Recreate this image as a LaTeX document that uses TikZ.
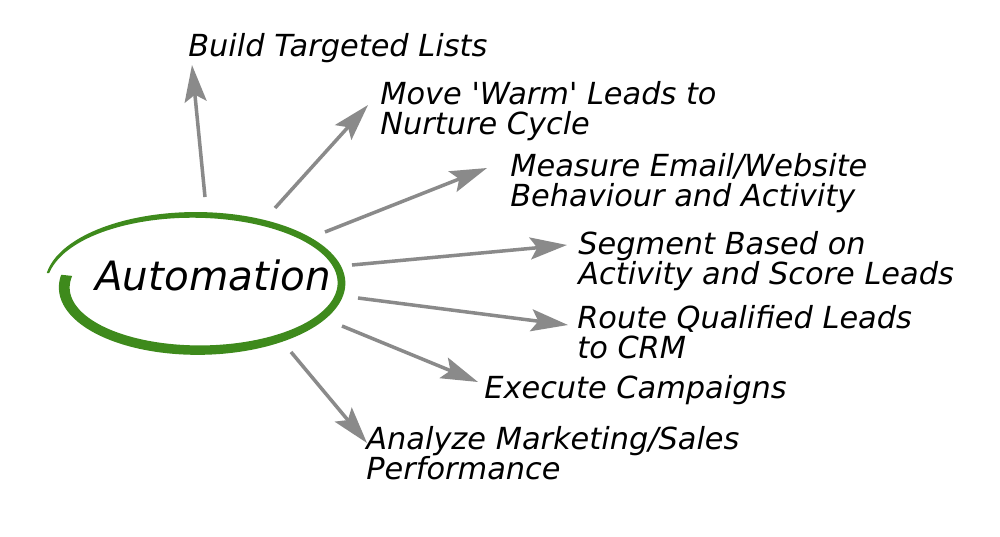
\documentclass[tikz,border=0pt]{standalone}
\usepackage{fontspec}
\setmainfont{DejaVu Sans}
\usetikzlibrary{arrows.meta}
\definecolor{leafgreen}{RGB}{62,138,28}
\definecolor{arrowgrey}{RGB}{138,138,138}
\tikzset{>={Stealth[length=21pt,width=12.5pt,inset=4pt]}}
\tikzset{
  item/.style={anchor=base west, inner sep=0pt, align=left,
    font=\fontsize{17.3}{17}\selectfont\itshape},
  hub/.style={anchor=base west, inner sep=0pt,
    font=\fontsize{23}{23}\selectfont\itshape},
  spoke/.style={->, draw=arrowgrey, line width=2pt}
}

\begin{document}
\begin{tikzpicture}[x=0.02cm, y=-0.02cm]
        \useasboundingbox (0,0) rectangle (1000,537);
        % brush stroke round the centre word
        \fill[leafgreen] plot[domain=0.002:1, samples=160, variable=\s]
            ({196+(151-15*\s^3)*cos(172-360*\s)}, {284-(72-3*\s^3)*sin(172-360*\s)})
          -- plot[domain=1:0.002, samples=160, variable=\s]
            ({196+(151-15*\s^3-2-9*\s^0.6)*cos(172-360*\s)}, {284-(72-3*\s^3-2-9*\s^0.6)*sin(172-360*\s)})
          -- cycle;
        \node[hub] (automation) at (95,290) {Automation};
        % labels (base = last line)
        \node[item] (lists) at (188,57) {Build Targeted Lists};
        \node[item] (warm) at (380,134) {Move {\textquotesingle}Warm{\textquotesingle} Leads to\\Nurture Cycle};
        \node[item] (measure) at (510,206) {Measure Email/Website\\Behaviour and Activity};
        \node[item] (segment) at (578,284) {Segment Based on\\Activity and Score Leads};
        \node[item] (route) at (577,358) {Route Qualified Leads\\to CRM};
        \node[item] (execute) at (484,398) {Execute Campaigns};
        \node[item] (analyze) at (366,479) {Analyze Marketing/Sales\\Performance};
        % arrow ends
        \coordinate (from1) at (205,197); \coordinate (to1) at (192,65);
        \coordinate (from2) at (275,208); \coordinate (to2) at (368,105);
        \coordinate (from3) at (325,232); \coordinate (to3) at (487,168);
        \coordinate (from4) at (352,265); \coordinate (to4) at (567,245);
        \coordinate (from5) at (358,298); \coordinate (to5) at (568,325);
        \coordinate (from6) at (342,326); \coordinate (to6) at (478,382);
        \coordinate (from7) at (291,352); \coordinate (to7) at (367,443);
        \draw[spoke] (from1) -- (to1);
        \draw[spoke] (from2) -- (to2);
        \draw[spoke] (from3) -- (to3);
        \draw[spoke] (from4) -- (to4);
        \draw[spoke] (from5) -- (to5);
        \draw[spoke] (from6) -- (to6);
        \draw[spoke] (from7) -- (to7);
    \end{tikzpicture}
\end{document}
